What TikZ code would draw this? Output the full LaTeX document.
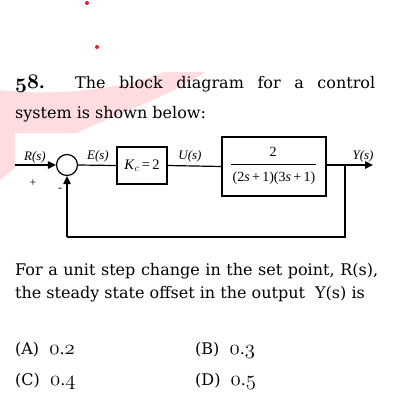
\documentclass[tikz,border=0pt]{standalone}
\usepackage{fontspec}
\setmainfont{DejaVu Serif}
\newfontfamily\tms{Liberation Serif}
\usetikzlibrary{arrows.meta}
\newcommand\osd[1]{{\fontencoding{OML}\fontfamily{cmm}\fontshape{it}\fontsize{19.5}{22}\selectfont #1}}
\definecolor{wmpink}{RGB}{255,220,224}
\definecolor{dotred}{RGB}{230,30,40}
\tikzset{
  body/.style={anchor=base west,inner sep=0pt,font=\fontsize{16}{19}\selectfont},
  lbl/.style={inner sep=0pt,font=\tms\itshape\fontsize{13}{15}\selectfont},
  blk/.style={draw,line width=1.2pt,inner sep=0pt},
  wire/.style={line width=1.2pt},
  arr/.style={line width=1.2pt,-{Triangle[length=8pt,width=7.5pt]}}
}
\begin{document}
\begin{tikzpicture}[x=1pt,y=-1pt]
\useasboundingbox (0,0) rectangle (402,405);
% watermark band
\fill[wmpink] (0,90) .. controls (60,97) and (125,88) .. (165,72) -- (205,72)
  .. controls (150,110) and (60,128) .. (0,180) -- cycle;
\fill[white] (15,133) rectangle (388,243);
% red dots
\fill[dotred] (87,3) circle (2pt);
\fill[dotred] (97,47) circle (2pt);
% question text
\node[body] (num) at (15,88) {\bfseries\osd{58}.};
\node[body] (l1) at (75,88) {\makebox[300pt][s]{The block diagram for a control}};
\node[body] (l2) at (15,118) {system is shown below:};
% diagram
\node[draw,circle,line width=1.2pt,minimum size=21pt,inner sep=0pt] (sum) at (67,165) {};
\coordinate (rin) at (15,165);
\node[blk,minimum width=50pt,minimum height=37pt] (kc) at (142,165.5) {\tms\fontsize{14.5}{16}\selectfont\textit{K}$_c$\,=\,2};
\node[blk,minimum width=104pt,minimum height=59pt] (gp) at (274,166.5) {};
\node[inner sep=0pt] (num2) at (273,152) {\tms\fontsize{14}{16}\selectfont 2};
\node[inner sep=0pt] (den2) at (274,178) {\tms\fontsize{14}{16}\selectfont (2\textit{s}\,+\,1)(3\textit{s}\,+\,1)};
\draw[line width=1pt] (231,164) -- (316,164);
\coordinate (yout) at (373,165);
\coordinate (br) at (345,165);
\coordinate (fb1) at (345,237);
\coordinate (fb2) at (67,237);
\draw[arr] (rin) -- (sum.west);
\draw[wire] (sum.east) -- (kc.west);
\draw[wire] (kc.east) -- (gp.west);
\draw[arr] (gp.east |- yout) -- (yout);
\draw[wire] (br) -- (fb1) -- (fb2);
\draw[arr] (fb2) -- (sum.south);
\node[lbl] (rl) at (35,157) {R(s)};
\node[lbl] (el) at (98,156) {E(s)};
\node[lbl] (ul) at (190,156) {U(s)};
\node[lbl] (yl) at (363,156) {Y(s)};
\node[inner sep=0pt,font=\tms\fontsize{12}{12}\selectfont] (plus) at (33,183) {+};
\node[inner sep=0pt,font=\tms\fontsize{12}{12}\selectfont] (minus) at (60,190) {-};
% question continued
\node[body] (l3) at (15,275) {\makebox[363pt][s]{For a unit step change in the set point, R(s),}};
\node[body] (l4) at (15,298) {the steady state offset in the output\ \ Y(s) is};
\node[body] (oa) at (15,354) {(A)\ \ \osd{0}.\osd{2}};
\node[body] (ob) at (195,354) {(B)\ \ \osd{0}.\osd{3}};
\node[body] (oc) at (15,385) {(C)\ \ \osd{0}.\osd{4}};
\node[body] (od) at (195,385) {(D)\ \ \osd{0}.\osd{5}};
\end{tikzpicture}
\end{document}
